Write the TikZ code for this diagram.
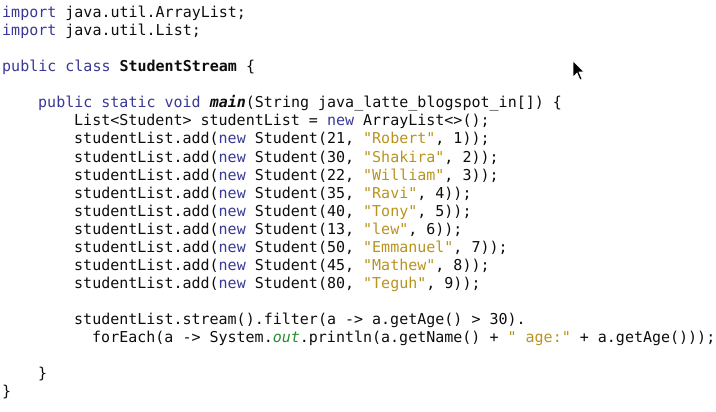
\documentclass[tikz,border=0pt]{standalone}
\usepackage{fontspec}
\setmonofont{DejaVu Sans Mono}
\usetikzlibrary{positioning}
\definecolor{kwBlue}{RGB}{56,56,150}
\definecolor{strGold}{RGB}{184,148,30}
\definecolor{outGreen}{RGB}{40,140,50}
\definecolor{codeBlack}{gray}{0.05}
\newcommand{\kw}[1]{\textcolor{kwBlue}{#1}}
\newcommand{\str}[1]{\textcolor{strGold}{"#1"}}
\tikzset{codeline/.style={anchor=base west, inner sep=0pt, font=\ttfamily\fontsize{15}{18}\selectfont, text=codeBlack}}
\begin{document}
\begin{tikzpicture}[x=1pt, y=-1pt]
    \useasboundingbox (0,0) rectangle (716,412);
    % x = 2 + 9*indent, baseline = 18 + 18*line
    \node[codeline] (l0) at (2,18) {\kw{import} java.util.ArrayList;};
    \node[codeline] (l1) at (2,36) {\kw{import} java.util.List;};
    \node[codeline] (l3) at (2,72) {\kw{public} \kw{class} \textbf{StudentStream} \{};
    \node[codeline] (l5) at (38,108) {\kw{public} \kw{static} \kw{void} \textbf{\textit{main}}(String java\_latte\_blogspot\_in[]) \{};
    \node[codeline] (l6) at (74,126) {List<Student> studentList = \kw{new} ArrayList<>();};
    \foreach \i/\age/\name in {1/21/Robert, 2/30/Shakira, 3/22/William, 4/35/Ravi, 5/40/Tony,
        6/13/lew, 7/50/Emmanuel, 8/45/Mathew, 9/80/Teguh}
        \node[codeline] (add\i) at (74,126+18*\i) {studentList.add(\kw{new} Student(\age, \str{\name}, \i));};
    \node[codeline] (l17) at (74,324) {studentList.stream().filter(a -> a.getAge() > 30).};
    \node[codeline] (l18) at (92,342) {forEach(a -> System.\textcolor{outGreen}{\textit{out}}.println(a.getName() + \str{ age:} + a.getAge()));};
    \node[codeline] (l20) at (38,378) {\}};
    \node[codeline] (l21) at (2,396) {\}};
    % mouse pointer
    \filldraw[fill=black, draw=white, line width=0.6pt] (573,61) -- (573,77) -- (577,73) -- (580,80) -- (582,79) -- (579,72) -- (584,72) -- cycle;
\end{tikzpicture}
\end{document}
